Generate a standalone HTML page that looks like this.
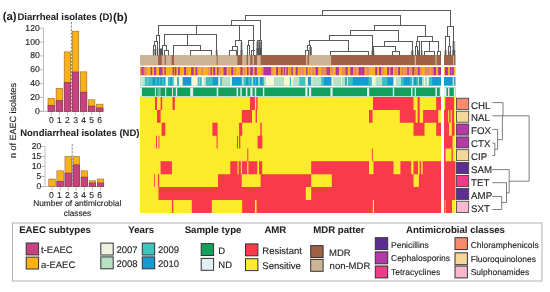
<!DOCTYPE html>
<html><head><meta charset="utf-8"><style>
html,body{margin:0;padding:0;background:#fff;width:550px;height:292px;overflow:hidden;}
svg{display:block;font-family:"Liberation Sans", sans-serif;text-rendering:geometricPrecision;will-change:transform;}
text{stroke:#231f20;stroke-width:0.14px;}
text.b{stroke-width:0.05px;}
</style></head><body>
<svg width="550" height="292" viewBox="0 0 550 292" shape-rendering="auto">

<g>
<rect width="550" height="292" fill="#ffffff"/>
<rect x="140.00" y="97.00" width="301.00" height="116.00" fill="#fbeb2a" />
<rect x="444.00" y="97.00" width="11.50" height="116.00" fill="#fbeb2a" />
<path d="M155,97H157V110H155ZM160.6,97H162.2V110H160.6ZM172.5,97H174.8V110H172.5ZM250,97H255V110H250ZM256.2,97H257.6V110H256.2ZM373,97H413.5V110H373ZM417.6,97H419.7V110H417.6ZM436.2,97H441V110H436.2ZM445.3,97H454V110H445.3ZM157,110H160.6V122.8H157ZM241.8,110H252V122.8H241.8ZM255.6,110H257V122.8H255.6ZM369,110H372.5V122.8H369ZM399.8,110H415.6V122.8H399.8ZM417.6,110H419.7V122.8H417.6ZM423.1,110H438.2V122.8H423.1ZM444,110H454V122.8H444ZM161.6,122.8H165.3V135.7H161.6ZM212.4,122.8H217.6V135.7H212.4ZM239.1,122.8H242.2V135.7H239.1ZM260.3,122.8H261.7V135.7H260.3ZM413.5,122.8H424.5V135.7H413.5ZM436.2,122.8H441V135.7H436.2ZM444,122.8H449V135.7H444ZM451.8,122.8H454.5V135.7H451.8ZM156,135.7H157V148.5H156ZM158.5,135.7H159.4V148.5H158.5ZM216.6,135.7H217.6V148.5H216.6ZM237,135.7H238V148.5H237ZM239,135.7H240.3V148.5H239ZM257.6,135.7H262.3V148.5H257.6ZM444,135.7H452.5V148.5H444ZM247.3,148.5H248.3V161.3H247.3ZM371.9,148.5H372.8V161.3H371.9ZM444,148.5H445.5V161.3H444ZM451.5,148.5H452.8V161.3H451.5ZM160.6,161.3H171.9V174.2H160.6ZM230.3,161.3H237.5V174.2H230.3ZM238.6,161.3H240.8V174.2H238.6ZM241.9,161.3H247.2V174.2H241.9ZM248.4,161.3H257.3V174.2H248.4ZM259,161.3H262.2V174.2H259ZM311.2,161.3H369V174.2H311.2ZM373.5,161.3H393.5V174.2H373.5ZM400.4,161.3H411.2V174.2H400.4ZM413.5,161.3H418V174.2H413.5ZM419.6,161.3H421.2V174.2H419.6ZM422.7,161.3H441V174.2H422.7ZM444,161.3H455.5V174.2H444ZM154,174.2H154.8V187.1H154ZM157.9,174.2H159.2V187.1H157.9ZM218,174.2H241.7V187.1H218ZM260.6,174.2H311.2V187.1H260.6ZM331.8,174.2H413.5V187.1H331.8ZM418.9,174.2H441V187.1H418.9ZM444,174.2H455.5V187.1H444ZM158.5,187.1H305.8V200H158.5ZM311.2,187.1H441V200H311.2ZM444,187.1H455.5V200H444ZM171.9,200H173.3V213H171.9ZM191.8,200H211.8V213H191.8ZM242.2,200H255V213H242.2ZM256.6,200H372.8V213H256.6ZM374,200H441V213H374ZM444,200H452V213H444Z" fill="#f83a4a"/>
<rect x="448.20" y="110.00" width="1.00" height="12.80" fill="#fbeb2a" />
<rect x="450.70" y="110.00" width="1.10" height="12.80" fill="#fbeb2a" />
<rect x="444.80" y="200.00" width="0.70" height="13.00" fill="#fbeb2a" />
<rect x="140.00" y="55.00" width="301.00" height="10.20" fill="#a06244" />
<rect x="444.00" y="55.00" width="11.50" height="10.20" fill="#a06244" />
<path d="M140,55H158.1V65.2H140ZM161.8,55H164.7V65.2H161.8ZM165.8,55H171.6V65.2H165.8ZM174,55H216.7V65.2H174ZM217.7,55H237.4V65.2H217.7ZM242.2,55H246.6V65.2H242.2ZM248,55H250.3V65.2H248ZM252.5,55H254V65.2H252.5ZM257,55H260.6V65.2H257ZM306,55H307.5V65.2H306ZM309,55H331.1V65.2H309ZM414.7,55H416V65.2H414.7ZM435.4,55H436.6V65.2H435.4ZM453,55H454V65.2H453Z" fill="#cdb497"/>
<rect x="140.00" y="67.00" width="301.00" height="8.30" fill="#fab116" />
<rect x="444.00" y="67.00" width="11.50" height="8.30" fill="#fab116" />
<path d="M140.4,67H141.39999999999998V75.3H140.4ZM143.8,67H146.79999999999998V75.3H143.8ZM186.8,67H187.7V75.3H186.8ZM196.8,67H198.29999999999998V75.3H196.8ZM201.20000000000002,67H203.2V75.3H201.20000000000002ZM207.70000000000002,67H209.2V75.3H207.70000000000002ZM219.20000000000002,67H220.6V75.3H219.20000000000002ZM228.4,67H229.89999999999998V75.3H228.4ZM234.4,67H235.89999999999998V75.3H234.4ZM243.70000000000002,67H245.2V75.3H243.70000000000002ZM261.90000000000003,67H263.4V75.3H261.90000000000003ZM270.6,67H272.7V75.3H270.6ZM279.3,67H280.8V75.3H279.3ZM289.2,67H290.59999999999997V75.3H289.2ZM299.0,67H300.5V75.3H299.0ZM301.7,67H303.7V75.3H301.7ZM309.3,67H310.8V75.3H309.3ZM312.1,67H314.3V75.3H312.1ZM321.0,67H323.59999999999997V75.3H321.0ZM323.7,67H325.7V75.3H323.7ZM331.3,67H332.8V75.3H331.3ZM342.2,67H344.8V75.3H342.2ZM353.7,67H356.8V75.3H353.7ZM366.2,67H368.8V75.3H366.2ZM381.2,67H383.7V75.3H381.2ZM394.8,67H396.8V75.3H394.8ZM401.3,67H403.9V75.3H401.3ZM404.6,67H406.59999999999997V75.3H404.6ZM409.5,67H411.5V75.3H409.5ZM415.0,67H416.8V75.3H415.0ZM419.3,67H421.7V75.3H419.3ZM424.6,67H429.9V75.3H424.6ZM430.8,67H434.0V75.3H430.8Z" fill="#ea855e"/>
<path d="M141.60000000000002,67H143.6V75.3H141.60000000000002ZM150.60000000000002,67H152.1V75.3H150.60000000000002ZM154.10000000000002,67H156.1V75.3H154.10000000000002ZM159.0,67H161.0V75.3H159.0ZM161.20000000000002,67H162.6V75.3H161.20000000000002ZM164.4,67H165.7V75.3H164.4ZM172.60000000000002,67H174.1V75.3H172.60000000000002ZM174.8,67H176.29999999999998V75.3H174.8ZM178.10000000000002,67H179.79999999999998V75.3H178.10000000000002ZM184.10000000000002,67H186.1V75.3H184.10000000000002ZM191.10000000000002,67H193.7V75.3H191.10000000000002ZM195.5,67H197.0V75.3H195.5ZM210.4,67H211.89999999999998V75.3H210.4ZM213.20000000000002,67H215.2V75.3H213.20000000000002ZM217.0,67H218.5V75.3H217.0ZM223.5,67H226.6V75.3H223.5ZM231.20000000000002,67H233.2V75.3H231.20000000000002ZM240.4,67H242.5V75.3H240.4ZM247.0,67H248.5V75.3H247.0ZM250.20000000000002,67H252.79999999999998V75.3H250.20000000000002ZM254.60000000000002,67H256.8V75.3H254.60000000000002ZM263.5,67H271.0V75.3H263.5ZM276.1,67H278.09999999999997V75.3H276.1ZM281.0,67H282.5V75.3H281.0ZM283.7,67H285.2V75.3H283.7ZM286.40000000000003,67H287.9V75.3H286.40000000000003ZM291.3,67H292.8V75.3H291.3ZM295.7,67H297.7V75.3H295.7ZM306.1,67H307.5V75.3H306.1ZM315.5,67H318.09999999999997V75.3H315.5ZM326.40000000000003,67H327.9V75.3H326.40000000000003ZM328.1,67H330.09999999999997V75.3H328.1ZM335.7,67H338.8V75.3H335.7ZM345.5,67H347.59999999999997V75.3H345.5ZM350.40000000000003,67H353.0V75.3H350.40000000000003ZM358.6,67H361.7V75.3H358.6ZM361.90000000000003,67H364.5V75.3H361.90000000000003ZM375.2,67H377.2V75.3H375.2ZM379.0,67H381.0V75.3H379.0ZM387.2,67H389.2V75.3H387.2ZM390.40000000000003,67H393.0V75.3H390.40000000000003ZM398.1,67H400.09999999999997V75.3H398.1ZM407.3,67H408.8V75.3H407.3ZM412.2,67H414.3V75.3H412.2ZM417.7,67H419.7V75.3H417.7ZM433.6,67H436.09999999999997V75.3H433.6ZM438.1,67H441.0V75.3H438.1ZM445.1,67H447.9V75.3H445.1ZM450.0,67H451.59999999999997V75.3H450.0ZM452.0,67H453.7V75.3H452.0Z" fill="#b3339a"/>
<rect x="140.00" y="77.00" width="301.00" height="8.70" fill="#169acf" />
<rect x="444.00" y="77.00" width="11.50" height="8.70" fill="#169acf" />
<path d="M140.0,77H141.2V85.7H140.0ZM142.8,77H145.0V85.7H142.8ZM146.6,77H147.7V85.7H146.6ZM197.0,77H198.1V85.7H197.0ZM199.2,77H200.3V85.7H199.2ZM204.6,77H206.3V85.7H204.6ZM221.5,77H229.7V85.7H221.5ZM241.7,77H243.9V85.7H241.7ZM251.5,77H253.2V85.7H251.5ZM258.3,77H259.9V85.7H258.3ZM263.7,77H265.4V85.7H263.7ZM274.1,77H278.4V85.7H274.1ZM279.5,77H283.4V85.7H279.5ZM293.7,77H299.7V85.7H293.7ZM312.8,77H321.7V85.7H312.8ZM333.7,77H340.8V85.7H333.7ZM342.4,77H345.2V85.7H342.4ZM375.9,77H382.5V85.7H375.9ZM396.6,77H401.0V85.7H396.6ZM411.9,77H413.5V85.7H411.9ZM417.9,77H419.1V85.7H417.9ZM422.0,77H424.0V85.7H422.0ZM425.2,77H426.9V85.7H425.2ZM452.6,77H454.3V85.7H452.6Z" fill="#b5e2c3"/>
<path d="M141.2,77H142.8V85.7H141.2ZM165.5,77H168.2V85.7H165.5ZM173.4,77H177.2V85.7H173.4ZM178.8,77H182.6V85.7H178.8ZM191.3,77H197.0V85.7H191.3ZM201.4,77H204.6V85.7H201.4ZM218.3,77H220.4V85.7H218.3ZM229.7,77H231.9V85.7H229.7ZM265.4,77H274.1V85.7H265.4ZM278.4,77H279.5V85.7H278.4ZM283.4,77H289.9V85.7H283.4ZM291.0,77H293.7V85.7H291.0ZM305.2,77H307.9V85.7H305.2ZM311.2,77H312.8V85.7H311.2ZM331.5,77H333.7V85.7H331.5ZM340.8,77H342.4V85.7H340.8ZM346.8,77H347.9V85.7H346.8ZM371.5,77H375.9V85.7H371.5ZM393.4,77H396.6V85.7H393.4ZM424.0,77H425.2V85.7H424.0ZM426.9,77H428.9V85.7H426.9Z" fill="#fbf7d2"/>
<path d="M145.0,77H146.6V85.7H145.0ZM147.7,77H152.6V85.7H147.7ZM155.4,77H157.0V85.7H155.4ZM158.6,77H160.3V85.7H158.6ZM161.9,77H164.1V85.7H161.9ZM168.2,77H170.1V85.7H168.2ZM171.7,77H173.4V85.7H171.7ZM177.2,77H178.8V85.7H177.2ZM198.1,77H199.2V85.7H198.1ZM200.3,77H201.4V85.7H200.3ZM206.3,77H212.8V85.7H206.3ZM220.4,77H221.5V85.7H220.4ZM243.9,77H246.1V85.7H243.9ZM248.3,77H250.4V85.7H248.3ZM255.0,77H256.1V85.7H255.0ZM262.6,77H263.7V85.7H262.6ZM289.9,77H291.0V85.7H289.9ZM299.7,77H305.2V85.7H299.7ZM321.7,77H323.9V85.7H321.7ZM347.9,77H352.8V85.7H347.9ZM368.6,77H371.5V85.7H368.6ZM382.5,77H387.4V85.7H382.5ZM401.0,77H403.7V85.7H401.0ZM410.3,77H411.9V85.7H410.3ZM416.3,77H417.9V85.7H416.3ZM428.9,77H432.2V85.7H428.9Z" fill="#41bfbf"/>
<rect x="140.00" y="87.50" width="301.00" height="8.80" fill="#12a05d" />
<rect x="444.00" y="87.50" width="11.50" height="8.80" fill="#12a05d" />
<path d="M140,87.5H142V96.3H140ZM154.9,87.5H155.9V96.3H154.9ZM157.8,87.5H158.4V96.3H157.8ZM159.6,87.5H160.3V96.3H159.6ZM165.2,87.5H166.2V96.3H165.2ZM172.1,87.5H173.1V96.3H172.1ZM175.8,87.5H177.2V96.3H175.8ZM190.2,87.5H193.1V96.3H190.2ZM216.7,87.5H218.2V96.3H216.7ZM236.6,87.5H238.1V96.3H236.6ZM240.3,87.5H241.8V96.3H240.3ZM245.9,87.5H247.4V96.3H245.9ZM250.3,87.5H252.5V96.3H250.3ZM254.7,87.5H256.2V96.3H254.7ZM262.9,87.5H264.3V96.3H262.9ZM305.3,87.5H307.5V96.3H305.3ZM309,87.5H311.2V96.3H309ZM330.4,87.5H332.6V96.3H330.4ZM367,87.5H369.2V96.3H367ZM392.8,87.5H394.2V96.3H392.8ZM411,87.5H412.5V96.3H411ZM414.7,87.5H416V96.3H414.7ZM435.4,87.5H436.9V96.3H435.4ZM439.8,87.5H441V96.3H439.8ZM444,87.5H446.5V96.3H444ZM448,87.5H449.4V96.3H448ZM453.8,87.5H455.5V96.3H453.8Z" fill="#e2eef4"/>
<rect x="444.6" y="50" width="1.80" height="5.00" fill="#3a3a3a" fill-opacity="0.82"/>
<rect x="452.4" y="41" width="2.80" height="14.00" fill="#3a3a3a" fill-opacity="0.47"/>
<rect x="452.4" y="50" width="2.80" height="5.00" fill="#3a3a3a" fill-opacity="0.72"/>
<rect x="447.8" y="51" width="3.20" height="4.00" fill="#3a3a3a" fill-opacity="0.47"/>
<rect x="240.5" y="42.5" width="2.00" height="12.50" fill="#3a3a3a" fill-opacity="0.47"/>
<rect x="240.5" y="50" width="2.00" height="5.00" fill="#3a3a3a" fill-opacity="0.62"/>
<rect x="256.5" y="41.5" width="5.30" height="13.50" fill="#3a3a3a" fill-opacity="0.62"/>
<rect x="256.5" y="48" width="5.30" height="7.00" fill="#3a3a3a" fill-opacity="0.72"/>
<rect x="215.6" y="50" width="2.20" height="5.00" fill="#3a3a3a" fill-opacity="0.47"/>
<rect x="156.6" y="48.5" width="1.70" height="6.50" fill="#3a3a3a" fill-opacity="0.72"/>
<rect x="159" y="48.5" width="3.00" height="6.50" fill="#3a3a3a" fill-opacity="0.85"/>
<rect x="152.8" y="49" width="3.20" height="6.00" fill="#3a3a3a" fill-opacity="0.52"/>
<rect x="309.4" y="47" width="2.40" height="8.00" fill="#3a3a3a" fill-opacity="0.82"/>
<rect x="371.4" y="50.5" width="3.00" height="4.50" fill="#3a3a3a" fill-opacity="0.57"/>
<rect x="410.8" y="50.5" width="2.70" height="4.50" fill="#3a3a3a" fill-opacity="0.57"/>
<rect x="418" y="50.5" width="1.80" height="4.50" fill="#3a3a3a" fill-opacity="0.72"/>
<rect x="420.8" y="50.5" width="1.80" height="4.50" fill="#3a3a3a" fill-opacity="0.52"/>
<path d="M322.5,10.5H450.5M322.5,10.5V15.5M245.5,15.5H400.5M450.5,10.5V26.5M447.5,26.5H453.5M447.5,26.5V36.5M445.5,36.5H449.5M445.5,36.5V55.0M449.5,36.5V46.5M448.5,46.5H450.5M448.5,46.5V55.0M450.5,46.5V55.0M453.5,26.5V55.0M245.5,15.5V20.5M231.5,20.5H260.5M260.5,20.5V40.5M257.5,40.5H261.5M231.5,20.5V25.5M158.5,25.5H253.5M239.5,25.5V40.5M235.5,40.5H241.5M235.5,40.5V46.5M232.5,46.5H237.5M232.5,46.5V50.5M229.5,50.5H236.5M229.5,50.5V55.0M236.5,50.5V55.0M237.5,46.5V55.0M241.5,40.5V55.0M253.5,25.5V40.5M248.5,40.5H254.5M248.5,40.5V45.5M247.5,45.5H249.5M247.5,45.5V55.0M249.5,45.5V55.0M253.5,40.5V55.0M251.5,50.5H254.5M251.5,50.5V55.0M257.5,41.5V55.0M259.5,41.5V55.0M261.5,41.5V55.0M196.5,25.5V34.5M164.5,34.5H216.5M216.5,34.5V55.0M187.5,34.5V45.5M173.5,45.5H200.5M173.5,45.5V55.0M200.5,45.5V50.5M190.5,50.5H211.5M190.5,50.5V55.0M211.5,50.5V55.0M164.5,34.5V45.5M162.5,45.5H166.5M162.5,45.5V55.0M166.5,45.5V50.5M164.5,50.5H168.5M164.5,50.5V55.0M168.5,50.5V55.0M158.5,25.5V35.5M156.5,35.5H159.5M156.5,35.5V41.5M154.5,41.5H157.5M154.5,41.5V45.5M153.5,45.5H155.5M153.5,45.5V55.0M155.5,45.5V55.0M157.5,41.5V55.0M159.5,35.5V48.5M400.5,15.5V25.5M374.5,25.5H425.5M374.5,25.5V30.5M350.5,30.5H398.5M350.5,30.5V35.5M329.5,35.5H372.5M329.5,35.5V40.5M309.5,40.5H348.5M309.5,40.5V45.5M307.5,45.5H310.5M307.5,45.5V50.5M305.5,50.5H308.5M305.5,50.5V55.0M308.5,50.5V55.0M310.5,45.5V55.0M348.5,40.5V51.5M330.5,51.5H368.5M330.5,51.5V55.0M368.5,51.5V55.0M372.5,35.5V55.0M398.5,30.5V41.5M384.5,41.5H412.5M384.5,41.5V46.5M373.5,46.5H395.5M373.5,46.5V55.0M395.5,46.5V51.5M392.5,51.5H399.5M392.5,51.5V55.0M399.5,51.5V55.0M412.5,41.5V55.0M425.5,25.5V36.5M417.5,36.5H432.5M417.5,36.5V41.5M416.5,41.5H419.5M416.5,41.5V46.5M415.5,46.5H417.5M415.5,46.5V55.0M417.5,46.5V55.0M419.5,41.5V55.0M432.5,36.5V41.5M421.5,41.5H438.5M421.5,41.5V55.0M438.5,41.5V51.5M437.5,51.5H440.5M437.5,51.5V55.0M440.5,51.5V55.0M429.5,41.5V51.5M424.5,51.5H434.5M424.5,51.5V55.0M434.5,51.5V55.0" stroke="#5a5a5a" stroke-width="1" stroke-linecap="square" fill="none"/>
<rect x="456.5" y="98.20" width="12.2" height="11.20" fill="#f88b6d" stroke="#3a3a3a" stroke-width="0.8"/>
<text transform="translate(471.10,108.50) scale(1,1.0)" font-size="9.7" text-anchor="start" font-weight="normal" fill="#231f20" >CHL</text>
<rect x="456.5" y="111.20" width="12.2" height="11.00" fill="#f6d79a" stroke="#3a3a3a" stroke-width="0.8"/>
<text transform="translate(471.10,121.40) scale(1,1.0)" font-size="9.7" text-anchor="start" font-weight="normal" fill="#231f20" >NAL</text>
<rect x="456.5" y="124.00" width="12.2" height="11.10" fill="#b43aa6" stroke="#3a3a3a" stroke-width="0.8"/>
<text transform="translate(471.10,134.25) scale(1,1.0)" font-size="9.7" text-anchor="start" font-weight="normal" fill="#231f20" >FOX</text>
<rect x="456.5" y="136.90" width="12.2" height="11.00" fill="#b43aa6" stroke="#3a3a3a" stroke-width="0.8"/>
<text transform="translate(471.10,147.10) scale(1,1.0)" font-size="9.7" text-anchor="start" font-weight="normal" fill="#231f20" >CTX</text>
<rect x="456.5" y="149.70" width="12.2" height="11.00" fill="#f6d79a" stroke="#3a3a3a" stroke-width="0.8"/>
<text transform="translate(471.10,159.90) scale(1,1.0)" font-size="9.7" text-anchor="start" font-weight="normal" fill="#231f20" >CIP</text>
<rect x="456.5" y="162.50" width="12.2" height="11.10" fill="#5c2e91" stroke="#3a3a3a" stroke-width="0.8"/>
<text transform="translate(471.10,172.75) scale(1,1.0)" font-size="9.7" text-anchor="start" font-weight="normal" fill="#231f20" >SAM</text>
<rect x="456.5" y="175.40" width="12.2" height="11.10" fill="#ee3d88" stroke="#3a3a3a" stroke-width="0.8"/>
<text transform="translate(471.10,185.65) scale(1,1.0)" font-size="9.7" text-anchor="start" font-weight="normal" fill="#231f20" >TET</text>
<rect x="456.5" y="188.30" width="12.2" height="11.10" fill="#5c2e91" stroke="#3a3a3a" stroke-width="0.8"/>
<text transform="translate(471.10,198.55) scale(1,1.0)" font-size="9.7" text-anchor="start" font-weight="normal" fill="#231f20" >AMP</text>
<rect x="456.5" y="201.20" width="12.2" height="11.20" fill="#f8b9cc" stroke="#3a3a3a" stroke-width="0.8"/>
<text transform="translate(471.10,211.50) scale(1,1.0)" font-size="9.7" text-anchor="start" font-weight="normal" fill="#231f20" >SXT</text>
<path d="M492.3,102.6H503M503,102.6V116M492.3,115.8H529.1M502.4,115.8V139.7M492.3,129.4H497.6M497.6,129.4V149.3M497.6,139.7H502.4M492.3,143.1H494.8M494.8,143.1V155.5M492.3,155.5H494.8M494.8,149.3H497.6M529.1,115.8V181.2M509.2,181.2H529.1M492.3,169.6H509.2M509.2,169.6V192.9M506.5,192.9H509.2M492.3,182.7H506.5M506.5,182.7V202.6M501.7,202.6H506.5M492.3,196.4H501.7M501.7,196.4V209.5M492.3,209.5H501.7" stroke="#5e5e5e" stroke-width="0.8" fill="none"/>
<line x1="43.50" y1="28.20" x2="43.50" y2="111.30" stroke="#b5b5b5" stroke-width="0.9" />
<line x1="39.50" y1="111.30" x2="104.00" y2="111.30" stroke="#b5b5b5" stroke-width="0.9" />
<line x1="39.50" y1="111.30" x2="43.50" y2="111.30" stroke="#b5b5b5" stroke-width="0.9" />
<text transform="translate(39.70,113.80) scale(1,1.0)" font-size="8.6" text-anchor="end" font-weight="normal" fill="#231f20" >0</text>
<line x1="39.50" y1="97.45" x2="43.50" y2="97.45" stroke="#b5b5b5" stroke-width="0.9" />
<text transform="translate(39.70,99.95) scale(1,1.0)" font-size="8.6" text-anchor="end" font-weight="normal" fill="#231f20" >20</text>
<line x1="39.50" y1="83.60" x2="43.50" y2="83.60" stroke="#b5b5b5" stroke-width="0.9" />
<text transform="translate(39.70,86.10) scale(1,1.0)" font-size="8.6" text-anchor="end" font-weight="normal" fill="#231f20" >40</text>
<line x1="39.50" y1="69.75" x2="43.50" y2="69.75" stroke="#b5b5b5" stroke-width="0.9" />
<text transform="translate(39.70,72.25) scale(1,1.0)" font-size="8.6" text-anchor="end" font-weight="normal" fill="#231f20" >60</text>
<line x1="39.50" y1="55.90" x2="43.50" y2="55.90" stroke="#b5b5b5" stroke-width="0.9" />
<text transform="translate(39.70,58.40) scale(1,1.0)" font-size="8.6" text-anchor="end" font-weight="normal" fill="#231f20" >80</text>
<line x1="39.50" y1="42.05" x2="43.50" y2="42.05" stroke="#b5b5b5" stroke-width="0.9" />
<text transform="translate(39.70,44.55) scale(1,1.0)" font-size="8.6" text-anchor="end" font-weight="normal" fill="#231f20" >100</text>
<line x1="39.50" y1="28.20" x2="43.50" y2="28.20" stroke="#b5b5b5" stroke-width="0.9" />
<text transform="translate(39.70,30.70) scale(1,1.0)" font-size="8.6" text-anchor="end" font-weight="normal" fill="#231f20" >120</text>
<rect x="48.00" y="98.28" width="6.6" height="13.02" fill="#fab116" stroke="#7a5a40" stroke-width="0.5"/>
<rect x="48.00" y="105.21" width="6.6" height="6.09" fill="#c8427f" stroke="#6a3050" stroke-width="0.5"/>
<line x1="51.30" y1="112.10" x2="51.30" y2="115.60" stroke="#b0b0b0" stroke-width="0.8" />
<text transform="translate(51.30,122.90) scale(1,1.0)" font-size="8.5" text-anchor="middle" font-weight="normal" fill="#231f20" >0</text>
<rect x="56.07" y="88.31" width="6.6" height="22.99" fill="#fab116" stroke="#7a5a40" stroke-width="0.5"/>
<rect x="56.07" y="100.43" width="6.6" height="10.87" fill="#c8427f" stroke="#6a3050" stroke-width="0.5"/>
<line x1="59.37" y1="112.10" x2="59.37" y2="115.60" stroke="#b0b0b0" stroke-width="0.8" />
<text transform="translate(59.37,122.90) scale(1,1.0)" font-size="8.5" text-anchor="middle" font-weight="normal" fill="#231f20" >1</text>
<rect x="64.14" y="51.88" width="6.6" height="59.42" fill="#fab116" stroke="#7a5a40" stroke-width="0.5"/>
<rect x="64.14" y="82.35" width="6.6" height="28.95" fill="#c8427f" stroke="#6a3050" stroke-width="0.5"/>
<line x1="67.44" y1="112.10" x2="67.44" y2="115.60" stroke="#b0b0b0" stroke-width="0.8" />
<text transform="translate(67.44,122.90) scale(1,1.0)" font-size="8.5" text-anchor="middle" font-weight="normal" fill="#231f20" >2</text>
<rect x="72.21" y="31.11" width="6.6" height="80.19" fill="#fab116" stroke="#7a5a40" stroke-width="0.5"/>
<rect x="72.21" y="71.97" width="6.6" height="39.33" fill="#c8427f" stroke="#6a3050" stroke-width="0.5"/>
<line x1="75.51" y1="112.10" x2="75.51" y2="115.60" stroke="#b0b0b0" stroke-width="0.8" />
<text transform="translate(75.51,122.90) scale(1,1.0)" font-size="8.5" text-anchor="middle" font-weight="normal" fill="#231f20" >3</text>
<rect x="80.28" y="71.83" width="6.6" height="39.47" fill="#fab116" stroke="#7a5a40" stroke-width="0.5"/>
<rect x="80.28" y="92.12" width="6.6" height="19.18" fill="#c8427f" stroke="#6a3050" stroke-width="0.5"/>
<line x1="83.58" y1="112.10" x2="83.58" y2="115.60" stroke="#b0b0b0" stroke-width="0.8" />
<text transform="translate(83.58,122.90) scale(1,1.0)" font-size="8.5" text-anchor="middle" font-weight="normal" fill="#231f20" >4</text>
<rect x="88.35" y="99.80" width="6.6" height="11.50" fill="#fab116" stroke="#7a5a40" stroke-width="0.5"/>
<rect x="88.35" y="106.00" width="6.6" height="5.30" fill="#c8427f" stroke="#6a3050" stroke-width="0.5"/>
<line x1="91.65" y1="112.10" x2="91.65" y2="115.60" stroke="#b0b0b0" stroke-width="0.8" />
<text transform="translate(91.65,122.90) scale(1,1.0)" font-size="8.5" text-anchor="middle" font-weight="normal" fill="#231f20" >5</text>
<rect x="96.42" y="104.10" width="6.6" height="7.20" fill="#fab116" stroke="#7a5a40" stroke-width="0.5"/>
<rect x="96.42" y="107.91" width="6.6" height="3.39" fill="#c8427f" stroke="#6a3050" stroke-width="0.5"/>
<line x1="99.72" y1="112.10" x2="99.72" y2="115.60" stroke="#b0b0b0" stroke-width="0.8" />
<text transform="translate(99.72,122.90) scale(1,1.0)" font-size="8.5" text-anchor="middle" font-weight="normal" fill="#231f20" >6</text>
<line x1="71.40" y1="22.00" x2="71.40" y2="111.30" stroke="#666" stroke-width="0.8" stroke-dasharray="2.2,1.3"/>
<line x1="45.00" y1="146.40" x2="45.00" y2="186.50" stroke="#b5b5b5" stroke-width="0.9" />
<line x1="41.00" y1="186.50" x2="104.00" y2="186.50" stroke="#b5b5b5" stroke-width="0.9" />
<line x1="41.00" y1="186.50" x2="45.00" y2="186.50" stroke="#b5b5b5" stroke-width="0.9" />
<text transform="translate(41.20,189.00) scale(1,1.0)" font-size="8.6" text-anchor="end" font-weight="normal" fill="#231f20" >0</text>
<line x1="41.00" y1="176.50" x2="45.00" y2="176.50" stroke="#b5b5b5" stroke-width="0.9" />
<text transform="translate(41.20,179.00) scale(1,1.0)" font-size="8.6" text-anchor="end" font-weight="normal" fill="#231f20" >5</text>
<line x1="41.00" y1="166.50" x2="45.00" y2="166.50" stroke="#b5b5b5" stroke-width="0.9" />
<text transform="translate(41.20,169.00) scale(1,1.0)" font-size="8.6" text-anchor="end" font-weight="normal" fill="#231f20" >10</text>
<line x1="41.00" y1="156.50" x2="45.00" y2="156.50" stroke="#b5b5b5" stroke-width="0.9" />
<text transform="translate(41.20,159.00) scale(1,1.0)" font-size="8.6" text-anchor="end" font-weight="normal" fill="#231f20" >15</text>
<line x1="41.00" y1="146.50" x2="45.00" y2="146.50" stroke="#b5b5b5" stroke-width="0.9" />
<text transform="translate(41.20,149.00) scale(1,1.0)" font-size="8.6" text-anchor="end" font-weight="normal" fill="#231f20" >20</text>
<rect x="48.80" y="179.00" width="6.6" height="7.50" fill="#fab116" stroke="#7a5a40" stroke-width="0.5"/>
<line x1="52.10" y1="187.30" x2="52.10" y2="190.80" stroke="#b0b0b0" stroke-width="0.8" />
<text transform="translate(51.30,198.10) scale(1,1.0)" font-size="8.5" text-anchor="middle" font-weight="normal" fill="#231f20" >0</text>
<rect x="56.87" y="170.80" width="6.6" height="15.70" fill="#fab116" stroke="#7a5a40" stroke-width="0.5"/>
<rect x="56.87" y="181.20" width="6.6" height="5.30" fill="#c8427f" stroke="#6a3050" stroke-width="0.5"/>
<line x1="60.17" y1="187.30" x2="60.17" y2="190.80" stroke="#b0b0b0" stroke-width="0.8" />
<text transform="translate(59.37,198.10) scale(1,1.0)" font-size="8.5" text-anchor="middle" font-weight="normal" fill="#231f20" >1</text>
<rect x="64.94" y="156.30" width="6.6" height="30.20" fill="#fab116" stroke="#7a5a40" stroke-width="0.5"/>
<rect x="64.94" y="173.00" width="6.6" height="13.50" fill="#c8427f" stroke="#6a3050" stroke-width="0.5"/>
<line x1="68.24" y1="187.30" x2="68.24" y2="190.80" stroke="#b0b0b0" stroke-width="0.8" />
<text transform="translate(67.44,198.10) scale(1,1.0)" font-size="8.5" text-anchor="middle" font-weight="normal" fill="#231f20" >2</text>
<rect x="73.01" y="156.30" width="6.6" height="30.20" fill="#fab116" stroke="#7a5a40" stroke-width="0.5"/>
<rect x="73.01" y="164.80" width="6.6" height="21.70" fill="#c8427f" stroke="#6a3050" stroke-width="0.5"/>
<line x1="76.31" y1="187.30" x2="76.31" y2="190.80" stroke="#b0b0b0" stroke-width="0.8" />
<text transform="translate(75.51,198.10) scale(1,1.0)" font-size="8.5" text-anchor="middle" font-weight="normal" fill="#231f20" >3</text>
<rect x="81.08" y="170.80" width="6.6" height="15.70" fill="#fab116" stroke="#7a5a40" stroke-width="0.5"/>
<rect x="81.08" y="177.00" width="6.6" height="9.50" fill="#c8427f" stroke="#6a3050" stroke-width="0.5"/>
<line x1="84.38" y1="187.30" x2="84.38" y2="190.80" stroke="#b0b0b0" stroke-width="0.8" />
<text transform="translate(83.58,198.10) scale(1,1.0)" font-size="8.5" text-anchor="middle" font-weight="normal" fill="#231f20" >4</text>
<rect x="89.15" y="180.80" width="6.6" height="5.70" fill="#fab116" stroke="#7a5a40" stroke-width="0.5"/>
<rect x="89.15" y="182.90" width="6.6" height="3.60" fill="#c8427f" stroke="#6a3050" stroke-width="0.5"/>
<line x1="92.45" y1="187.30" x2="92.45" y2="190.80" stroke="#b0b0b0" stroke-width="0.8" />
<text transform="translate(91.65,198.10) scale(1,1.0)" font-size="8.5" text-anchor="middle" font-weight="normal" fill="#231f20" >5</text>
<rect x="97.22" y="179.00" width="6.6" height="7.50" fill="#fab116" stroke="#7a5a40" stroke-width="0.5"/>
<rect x="97.22" y="182.90" width="6.6" height="3.60" fill="#c8427f" stroke="#6a3050" stroke-width="0.5"/>
<line x1="100.52" y1="187.30" x2="100.52" y2="190.80" stroke="#b0b0b0" stroke-width="0.8" />
<text transform="translate(99.72,198.10) scale(1,1.0)" font-size="8.5" text-anchor="middle" font-weight="normal" fill="#231f20" >6</text>
<line x1="72.20" y1="144.00" x2="72.20" y2="186.50" stroke="#666" stroke-width="0.8" stroke-dasharray="2.2,1.3"/>
<text transform="translate(2.80,20.00) scale(1,1.0)" font-size="11.3" text-anchor="start" font-weight="bold" fill="#231f20" class="b" >(a)</text>
<text transform="translate(17.50,19.80) scale(1,1.0)" font-size="9.5" text-anchor="start" font-weight="bold" fill="#231f20" class="b" >Diarrheal isolates (D)</text>
<text transform="translate(113.00,21.30) scale(1,1.0)" font-size="11.5" text-anchor="start" font-weight="bold" fill="#231f20" class="b" >(b)</text>
<text transform="translate(20.20,135.80) scale(1,1.0)" font-size="9.5" text-anchor="start" font-weight="bold" fill="#231f20" class="b" >Nondiarrheal isolates (ND)</text>
<text transform="translate(77.20,205.70) scale(1,1.0)" font-size="8.35" text-anchor="middle" font-weight="normal" fill="#231f20" >Number of antimicrobial</text>
<text transform="translate(77.50,215.80) scale(1,1.0)" font-size="8.2" text-anchor="middle" font-weight="normal" fill="#231f20" >classes</text>
<text transform="translate(16.4,120.4) rotate(-90)" font-size="9.0" text-anchor="middle" fill="#231f20">n of EAEC isolates</text>
<rect x="12.5" y="223" width="529.5" height="58" fill="none" stroke="#a8a8a8" stroke-width="0.9"/>
<text transform="translate(19.20,232.50) scale(1,1.0)" font-size="9.65" text-anchor="start" font-weight="bold" fill="#231f20" class="b" >EAEC subtypes</text>
<rect x="26.2" y="243.0" width="12.4" height="11.9" fill="#c8427f" stroke="#333" stroke-width="1"/>
<text transform="translate(41.00,253.40) scale(1,1.0)" font-size="9.5" text-anchor="start" font-weight="normal" fill="#231f20" >t-EAEC</text>
<rect x="26.2" y="257.1" width="12.4" height="11.9" fill="#fab116" stroke="#333" stroke-width="1"/>
<text transform="translate(41.00,267.50) scale(1,1.0)" font-size="9.5" text-anchor="start" font-weight="normal" fill="#231f20" >a-EAEC</text>
<text transform="translate(128.30,232.50) scale(1,1.0)" font-size="9.65" text-anchor="start" font-weight="bold" fill="#231f20" class="b" >Years</text>
<rect x="100.8" y="243.1" width="12.4" height="11.9" fill="#eef3e0" stroke="#333" stroke-width="1"/>
<text transform="translate(116.40,253.40) scale(1,1.0)" font-size="9.5" text-anchor="start" font-weight="normal" fill="#231f20" >2007</text>
<rect x="100.8" y="256.9" width="12.4" height="11.9" fill="#b5e2c3" stroke="#333" stroke-width="1"/>
<text transform="translate(116.40,267.40) scale(1,1.0)" font-size="9.5" text-anchor="start" font-weight="normal" fill="#231f20" >2008</text>
<rect x="142.3" y="243.1" width="12.4" height="11.9" fill="#40c6be" stroke="#333" stroke-width="1"/>
<text transform="translate(158.00,253.40) scale(1,1.0)" font-size="9.5" text-anchor="start" font-weight="normal" fill="#231f20" >2009</text>
<rect x="142.3" y="256.9" width="12.4" height="11.9" fill="#169acf" stroke="#333" stroke-width="1"/>
<text transform="translate(158.00,267.40) scale(1,1.0)" font-size="9.5" text-anchor="start" font-weight="normal" fill="#231f20" >2010</text>
<text transform="translate(184.70,232.50) scale(1,1.0)" font-size="9.65" text-anchor="start" font-weight="bold" fill="#231f20" class="b" >Sample type</text>
<rect x="201.2" y="243.6" width="12.4" height="11.9" fill="#12a05d" stroke="#333" stroke-width="1"/>
<text transform="translate(218.30,253.50) scale(1,1.0)" font-size="9.5" text-anchor="start" font-weight="normal" fill="#231f20" >D</text>
<rect x="201.2" y="258.4" width="12.4" height="11.9" fill="#e2eef4" stroke="#333" stroke-width="1"/>
<text transform="translate(218.30,268.40) scale(1,1.0)" font-size="9.5" text-anchor="start" font-weight="normal" fill="#231f20" >ND</text>
<text transform="translate(264.40,232.50) scale(1,1.0)" font-size="9.65" text-anchor="start" font-weight="bold" fill="#231f20" class="b" >AMR</text>
<rect x="245.5" y="243.9" width="12.4" height="11.9" fill="#f83a4a" stroke="#333" stroke-width="1"/>
<text transform="translate(262.30,253.80) scale(1,1.0)" font-size="9.5" text-anchor="start" font-weight="normal" fill="#231f20" >Resistant</text>
<rect x="245.5" y="258.7" width="12.4" height="11.9" fill="#fbeb2a" stroke="#333" stroke-width="1"/>
<text transform="translate(262.30,268.80) scale(1,1.0)" font-size="9.5" text-anchor="start" font-weight="normal" fill="#231f20" >Sensitive</text>
<text transform="translate(313.20,232.50) scale(1,1.0)" font-size="9.65" text-anchor="start" font-weight="bold" fill="#231f20" class="b" >MDR patter</text>
<rect x="310.7" y="245.6" width="12.4" height="11.9" fill="#a06244" stroke="#333" stroke-width="1"/>
<text transform="translate(329.00,255.80) scale(1,1.0)" font-size="9.5" text-anchor="start" font-weight="normal" fill="#231f20" >MDR</text>
<rect x="310.7" y="259.4" width="12.4" height="11.9" fill="#cdb497" stroke="#333" stroke-width="1"/>
<text transform="translate(329.60,269.20) scale(1,1.0)" font-size="9.5" text-anchor="start" font-weight="normal" fill="#231f20" >non-MDR</text>
<text transform="translate(406.00,232.50) scale(1,1.0)" font-size="9.65" text-anchor="start" font-weight="bold" fill="#231f20" class="b" >Antimicrobial classes</text>
<rect x="375.3" y="237.7" width="12.4" height="11.9" fill="#5c2e91" stroke="#333" stroke-width="1"/>
<text transform="translate(391.00,247.50) scale(1,1.0)" font-size="8.5" text-anchor="start" font-weight="normal" fill="#231f20" >Penicillins</text>
<rect x="375.3" y="251.9" width="12.4" height="11.9" fill="#b43aa6" stroke="#333" stroke-width="1"/>
<text transform="translate(391.00,260.70) scale(1,1.0)" font-size="8.5" text-anchor="start" font-weight="normal" fill="#231f20" >Cephalosporins</text>
<rect x="375.3" y="266.0" width="12.4" height="11.9" fill="#ee3d88" stroke="#333" stroke-width="1"/>
<text transform="translate(391.00,275.30) scale(1,1.0)" font-size="8.5" text-anchor="start" font-weight="normal" fill="#231f20" >Tetracyclines</text>
<rect x="455" y="237.7" width="12.4" height="11.9" fill="#f88b6d" stroke="#333" stroke-width="1"/>
<text transform="translate(470.70,247.50) scale(1,1.0)" font-size="8.5" text-anchor="start" font-weight="normal" fill="#231f20" >Chloramphenicols</text>
<rect x="455" y="252.8" width="12.4" height="11.9" fill="#f6d79a" stroke="#333" stroke-width="1"/>
<text transform="translate(470.70,261.50) scale(1,1.0)" font-size="8.5" text-anchor="start" font-weight="normal" fill="#231f20" >Fluoroquinolones</text>
<rect x="455" y="266.0" width="12.4" height="11.9" fill="#f8b9cc" stroke="#333" stroke-width="1"/>
<text transform="translate(470.70,275.30) scale(1,1.0)" font-size="8.5" text-anchor="start" font-weight="normal" fill="#231f20" >Sulphonamides</text>
</g>
</svg></body></html>
